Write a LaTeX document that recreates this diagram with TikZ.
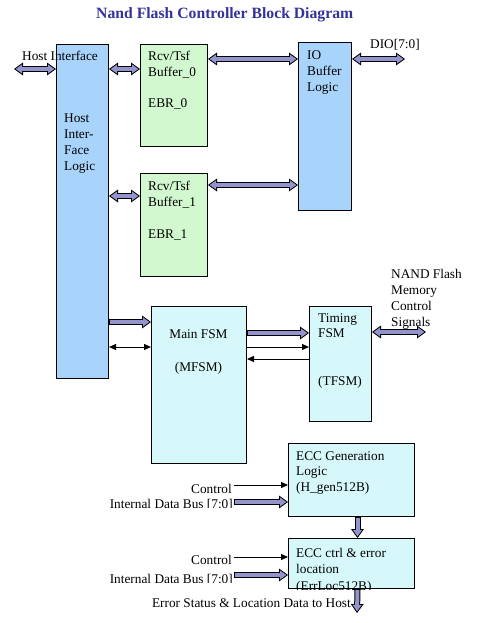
\documentclass[tikz,border=0pt]{standalone}
\usepackage{fontspec}
\setmainfont{Liberation Serif}
\usetikzlibrary{arrows.meta,positioning}
\definecolor{hostblue}{HTML}{A8D3FB}
\definecolor{bufgreen}{HTML}{D2F8CF}
\definecolor{fsmcyan}{HTML}{D6F8FA}
\definecolor{fatblue}{HTML}{9494CC}
\definecolor{titleblue}{HTML}{333399}

\tikzset{
	blk/.style={draw,rectangle,line width=1pt,anchor=north west,inner sep=0pt},
	lbl/.style={inner sep=0pt,align=left,anchor=base west,font=\fontsize{13.3}{15.7}\selectfont},
	fat/.style={line width=6pt,-{Triangle[length=9pt,width=13pt,line width=0pt]},
		postaction={draw=fatblue,line width=4pt,shorten <=1pt,shorten >=1.7pt,-{Triangle[length=6.3pt,width=9.1pt,line width=0pt]}}},
	fatdbl/.style={line width=6pt,{Triangle[length=9pt,width=13pt,line width=0pt]}-{Triangle[length=9pt,width=13pt,line width=0pt]},
		postaction={draw=fatblue,line width=4pt,shorten <=1.7pt,shorten >=1.7pt,{Triangle[length=6.3pt,width=9.1pt,line width=0pt]}-{Triangle[length=6.3pt,width=9.1pt,line width=0pt]}}},
	thinar/.style={line width=1pt,-{Triangle[length=7pt,width=6pt]}},
	thindbl/.style={line width=1pt,{Triangle[length=7pt,width=6pt]}-{Triangle[length=7pt,width=6pt]}},
}

\begin{document}
\begin{tikzpicture}[x=1pt,y=-1pt]
\useasboundingbox (0,0) rectangle (501,623);

\node[inner sep=0pt,anchor=base west,text=titleblue,font=\fontsize{15.7}{18}\selectfont\bfseries] (title) at (96,19) {Nand Flash Controller Block Diagram};

%===================================================================
\node[fill=hostblue] at (56,44) [blk,name=hil,minimum width=52,minimum height=334] {};
\node[fill=bufgreen] at (140,44) [blk,name=buf0,minimum width=67,minimum height=102] {};
\node[fill=bufgreen] at (140,173) [blk,name=buf1,minimum width=67,minimum height=103] {};
\node[fill=hostblue] at (298,42) [blk,name=iob,minimum width=53,minimum height=168] {};
\node[fill=fsmcyan] at (151,306) [blk,name=mfsm,minimum width=95,minimum height=157] {};
\node[fill=fsmcyan] at (309,306) [blk,name=tfsm,minimum width=62,minimum height=115] {};
\node[fill=fsmcyan] at (288,443) [blk,name=eccgen,minimum width=126,minimum height=73] {};
\node[fill=fsmcyan] at (288,538) [blk,name=eccctl,minimum width=126,minimum height=50] {};

% multi-line labels sit on the baseline of their last line
\node[lbl] (hosttxt) at (22,61) {Host Interface};
\node[lbl] (hiltxt) at (64,170) {Host\\Inter-\\Face\\Logic};
\node[lbl] (buf0txt) at (148,108) {Rcv/Tsf\\Buffer\_0\\[15.7pt]EBR\_0};
\node[lbl] (buf1txt) at (148,238) {Rcv/Tsf\\Buffer\_1\\[15.7pt]EBR\_1};
\node[lbl] (iobtxt) at (307,91.4) {IO\\Buffer\\Logic};
\node[lbl] (diotxt) at (370,49) {DIO[7:0]};
\node[lbl] (nandtxt) at (391,326) {NAND Flash\\Memory\\Control\\Signals};
\node[lbl,align=center,anchor=base] (mfsmtxt) at (198.5,371) {Main FSM\\[17pt](MFSM)};
\node[lbl] (tfsmtxt) at (318,385) {Timing\\FSM\\[31.4pt](TFSM)};
\node[lbl] (eccgentxt) at (296,491.4) {ECC Generation\\Logic\\(H\_gen512B)};
\begin{scope}
\clip (eccctl.north west) rectangle (eccctl.south east);
\node[lbl] (eccctltxt) at (296,590) {ECC ctrl \& error\\location\\[1.2pt](ErrLoc512B)};
\end{scope}

\node[lbl,anchor=base east] (ctl1txt) at (232,493) {Control};
\begin{scope}
\clip (90,495) rectangle (240,507.5);
\node[lbl,anchor=base east] (idb1txt) at (233,508) {Internal Data Bus [7:0]};
\end{scope}
\node[lbl,anchor=base east] (ctl2txt) at (232,564) {Control};
\begin{scope}
\clip (90,570) rectangle (240,582.5);
\node[lbl,anchor=base east] (idb2txt) at (233,583) {Internal Data Bus [7:0]};
\end{scope}
\node[lbl,anchor=base east] (errtxt) at (351,607) {Error Status \& Location Data to Host};

%===================================================================
\coordinate (hostin) at (14,69);
\coordinate (dio) at (405,59);
\coordinate (nand) at (426,332);
\coordinate (hostout) at (357,613);
\coordinate (ctl1) at (234,485);
\coordinate (idb1) at (234,502);
\coordinate (ctl2) at (234,557);
\coordinate (idb2) at (234,575);

\draw[fatdbl] (hostin) -- ([yshift=-25pt]hil.north west);
\draw[fatdbl] ([yshift=-25pt]hil.north east) -- ([yshift=-25pt]buf0.north west);
\draw[fatdbl] ([yshift=-15pt]buf0.north east) -- ([yshift=-17pt]iob.north west);
\draw[fatdbl] ([yshift=-17pt]iob.north east) -- (dio);
\draw[fatdbl] ([yshift=-152pt]hil.north east) -- ([yshift=-23pt]buf1.north west);
\draw[fatdbl] ([yshift=-12pt]buf1.north east) -- ([yshift=-143pt]iob.north west);

\draw[fat] ([yshift=-278pt]hil.north east) -- ([yshift=-16pt]mfsm.north west);
\draw[thindbl] ([yshift=-303pt]hil.north east) -- ([yshift=-41pt]mfsm.north west);
\draw[fat] ([yshift=-27pt]mfsm.north east) -- ([yshift=-27pt]tfsm.north west);
\draw[thinar] ([yshift=-41pt]mfsm.north east) -- ([yshift=-41pt]tfsm.north west);
\draw[thinar] ([yshift=-53pt]tfsm.north west) -- ([yshift=-53pt]mfsm.north east);
\draw[fatdbl] ([yshift=-26pt]tfsm.north east) -- (nand);

\draw[thinar] (ctl1) -- ([yshift=-42pt]eccgen.north west);
\draw[fat] (idb1) -- ([yshift=-59pt]eccgen.north west);
\draw[thinar] (ctl2) -- ([yshift=-19pt]eccctl.north west);
\draw[fat] (idb2) -- ([yshift=-37pt]eccctl.north west);
\draw[fat] ([xshift=6pt]eccgen.south) -- ([xshift=6pt]eccctl.north);
\draw[fat] ([xshift=6pt]eccctl.south) -- (hostout);
\end{tikzpicture}
\end{document}
